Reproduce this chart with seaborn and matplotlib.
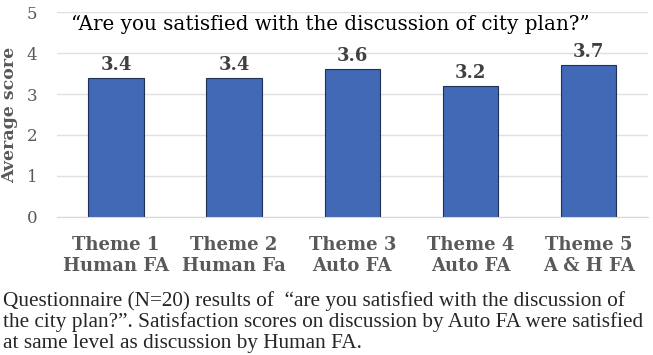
import matplotlib
matplotlib.use("Agg")
import matplotlib.pyplot as plt
import seaborn as sns
import pandas as pd

themes = ["Theme 1\nHuman FA", "Theme 2\nHuman Fa", "Theme 3\nAuto FA",
          "Theme 4\nAuto FA", "Theme 5\nA & H FA"]
scores = [3.4, 3.4, 3.6, 3.2, 3.7]
title = "\u201cAre you satisfied with the discussion of city plan?\u201d"
caption = ("Questionnaire (N=20) results of  \u201care you satisfied with the discussion of\n"
           "the city plan?\u201d. Satisfaction scores on discussion by Auto FA were satisfied\n"
           "at same level as discussion by Human FA.")

sns.set_style("white")
plt.rcParams['font.family'] = ['DejaVu Serif']

df = pd.DataFrame({"theme": themes, "score": scores})

fig = plt.figure(figsize=(6.53, 3.55), dpi=100)
ax = fig.add_axes([0.087, 0.389, 0.905, 0.577])
sns.barplot(data=df, x="theme", y="score", color="#4169B6", width=0.47,
            edgecolor="#1F2F55", linewidth=0.8, saturation=1, ax=ax)

ax.set_ylim(0, 5)
ax.set_xlim(-0.5, 4.5)
ax.set_yticks(range(6))
ax.yaxis.grid(True, color="#E0E0E0", linewidth=1)
ax.set_axisbelow(True)
for s in ["top", "right", "left"]:
    ax.spines[s].set_visible(False)
ax.spines["bottom"].set_color("#D9D9D9")
ax.tick_params(axis="both", length=0)
ax.tick_params(axis="y", labelsize=12, labelcolor="#595959", pad=14)
ax.tick_params(axis="x", labelsize=13, labelcolor="#595959", pad=14)
for t in ax.get_xticklabels():
    t.set_fontweight("bold")
    t.set_linespacing(1.2)
ax.set_xlabel("")
ax.set_ylabel("Average score", fontsize=12.5, fontweight="bold", color="#595959", labelpad=6)

for i, v in enumerate(scores):
    ax.text(i, v + 0.1, f"{v:.1f}", ha="center", va="bottom",
            fontsize=13, fontweight="bold", color="#404040")

ax.text(1.81, 4.7, title, ha="center", va="center", fontsize=14.3, color="black")

fig.text(0.005, 0.093, caption, ha="left", va="center", fontsize=15.3,
         family="Liberation Serif", linespacing=1.1)

fig.savefig("out.png", dpi=100)
